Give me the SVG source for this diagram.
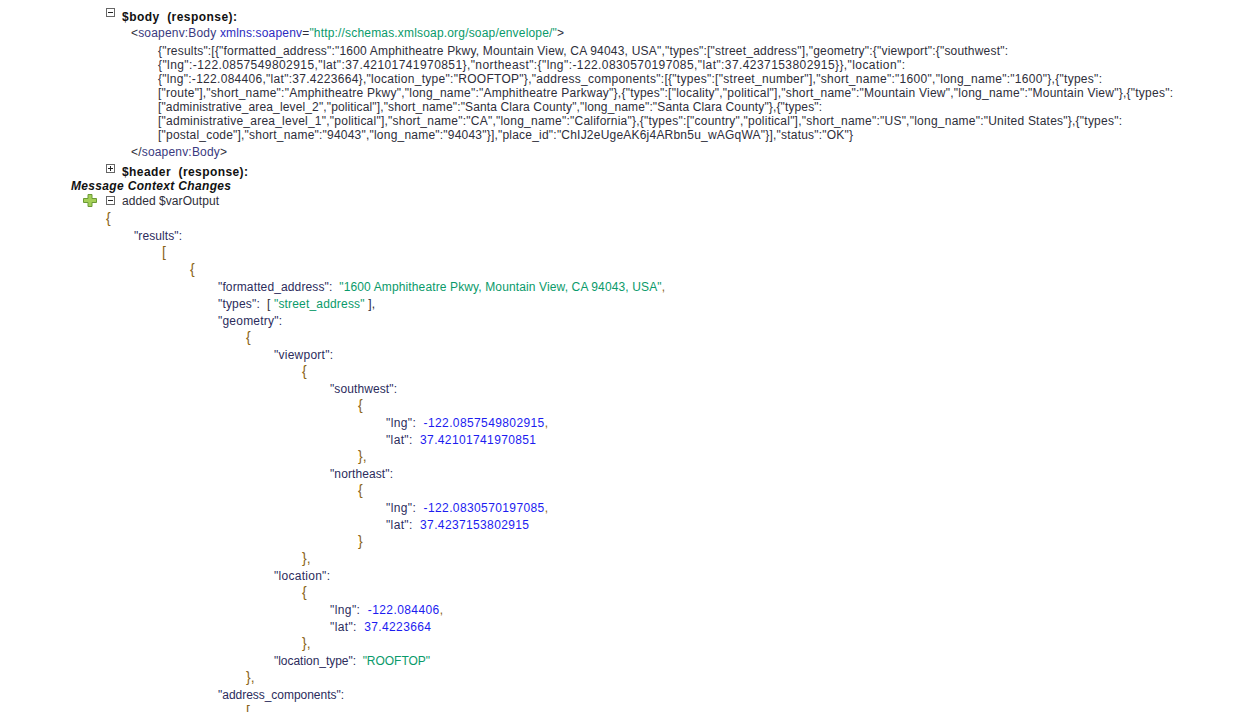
<svg xmlns="http://www.w3.org/2000/svg" width="1234" height="712" viewBox="0 0 1234 712">
<style>
text{font-family:"Liberation Sans",Arial,sans-serif;font-size:12px;fill:#2c2c5c;white-space:pre}
.h{font-weight:bold;fill:#111}
.i{font-weight:bold;font-style:italic;fill:#111}
.t{fill:#2e2e3a}
.tag{fill:#3a3a80}
.at{fill:#2b2bc0}
.s{fill:#0a9a6a}
.n{fill:#1c1cf0}
.b{fill:#8a6418}
.br{fill:#8a6418;font-size:14px}
.box{fill:#fff;stroke:#666;stroke-width:1}
.sym{stroke:#222;stroke-width:1;fill:none}
</style>
<rect width="1234" height="712" fill="#fff"/>
<g id="body-toggle"><rect class="box" x="106.500" y="8.500" width="8" height="8"/><path class="sym" d="M108 12.500h5"/></g>
<g id="header-toggle"><rect class="box" x="106.500" y="164.500" width="8" height="8"/><path class="sym" d="M108 168.500h5M110.500 166v5"/></g>
<g id="added-toggle"><rect class="box" x="106.500" y="196.500" width="8" height="8"/><path class="sym" d="M108 200.500h5"/></g>
<g id="added-icon"><path d="M88 194.500h4v4h4.500v4h-4.500v4h-4v-4h-4.500v-4h4.500z" fill="#a4cf58" stroke="#6b9a35" stroke-width="1"/></g>
<g id="response">
<text class="h" x="122" y="21" textLength="115">$body  (response):</text>
<text x="131" y="37" textLength="433"><tspan class="t">&lt;</tspan><tspan class="tag">soapenv:Body</tspan> <tspan class="at">xmlns:soapenv</tspan><tspan class="t">=</tspan><tspan class="s">"http://schemas.xmlsoap.org/soap/envelope/"</tspan><tspan class="t">&gt;</tspan></text>
<text class="t" x="158" y="55" textLength="850">{"results":[{"formatted_address":"1600 Amphitheatre Pkwy, Mountain View, CA 94043, USA","types":["street_address"],"geometry":{"viewport":{"southwest":</text>
<text class="t" x="158" y="69" textLength="747">{"lng":-122.0857549802915,"lat":37.42101741970851},"northeast":{"lng":-122.0830570197085,"lat":37.4237153802915}},"location":</text>
<text class="t" x="158" y="83" textLength="944">{"lng":-122.084406,"lat":37.4223664},"location_type":"ROOFTOP"},"address_components":[{"types":["street_number"],"short_name":"1600","long_name":"1600"},{"types":</text>
<text class="t" x="158" y="97" textLength="1015">["route"],"short_name":"Amphitheatre Pkwy","long_name":"Amphitheatre Parkway"},{"types":["locality","political"],"short_name":"Mountain View","long_name":"Mountain View"},{"types":</text>
<text class="t" x="158" y="111" textLength="664">["administrative_area_level_2","political"],"short_name":"Santa Clara County","long_name":"Santa Clara County"},{"types":</text>
<text class="t" x="158" y="125" textLength="964">["administrative_area_level_1","political"],"short_name":"CA","long_name":"California"},{"types":["country","political"],"short_name":"US","long_name":"United States"},{"types":</text>
<text class="t" x="158" y="139" textLength="695">["postal_code"],"short_name":"94043","long_name":"94043"}],"place_id":"ChIJ2eUgeAK6j4ARbn5u_wAGqWA"}],"status":"OK"}</text>
<text x="131" y="156" textLength="96"><tspan class="t">&lt;/</tspan><tspan class="tag">soapenv:Body</tspan><tspan class="t">&gt;</tspan></text>
<text class="h" x="122" y="176" textLength="126">$header  (response):</text>
<text class="i" x="71" y="190" textLength="160">Message Context Changes</text>
<text class="t" x="122" y="205" textLength="97">added $varOutput</text>
</g>
<g id="json">
<text class="br" x="106" y="223">{</text>
<text x="134" y="240" textLength="48">"results":</text>
<text class="br" x="162" y="257">[</text>
<text class="br" x="190" y="274">{</text>
<text x="218" y="291" textLength="447"><tspan>"formatted_address":  </tspan><tspan class="s">"1600 Amphitheatre Pkwy, Mountain View, CA 94043, USA"</tspan><tspan class="b">,</tspan></text>
<text x="218" y="308" textLength="157"><tspan>"types":  </tspan><tspan class="t">[ </tspan><tspan class="s">"street_address"</tspan><tspan class="t"> ],</tspan></text>
<text x="218" y="325" textLength="64">"geometry":</text>
<text class="br" x="246" y="342">{</text>
<text x="274" y="359" textLength="59">"viewport":</text>
<text class="br" x="302" y="376">{</text>
<text x="330" y="393" textLength="67">"southwest":</text>
<text class="br" x="358" y="410">{</text>
<text x="386" y="427" textLength="162"><tspan>"lng":  </tspan><tspan class="n">-122.0857549802915</tspan><tspan class="b">,</tspan></text>
<text x="386" y="444" textLength="150"><tspan>"lat":  </tspan><tspan class="n">37.42101741970851</tspan></text>
<text class="br" x="358" y="461">},</text>
<text x="330" y="478" textLength="63">"northeast":</text>
<text class="br" x="358" y="495">{</text>
<text x="386" y="512" textLength="162"><tspan>"lng":  </tspan><tspan class="n">-122.0830570197085</tspan><tspan class="b">,</tspan></text>
<text x="386" y="529" textLength="143"><tspan>"lat":  </tspan><tspan class="n">37.4237153802915</tspan></text>
<text class="br" x="358" y="546">}</text>
<text class="br" x="302" y="563">},</text>
<text x="274" y="580" textLength="56">"location":</text>
<text class="br" x="302" y="597">{</text>
<text x="330" y="614" textLength="113"><tspan>"lng":  </tspan><tspan class="n">-122.084406</tspan><tspan class="b">,</tspan></text>
<text x="330" y="631" textLength="101"><tspan>"lat":  </tspan><tspan class="n">37.4223664</tspan></text>
<text class="br" x="302" y="648">},</text>
<text x="274" y="665" textLength="156"><tspan>"location_type":  </tspan><tspan class="s">"ROOFTOP"</tspan></text>
<text class="br" x="246" y="682">},</text>
<text x="218" y="699" textLength="126">"address_components":</text>
<text class="br" x="246" y="716">[</text>
</g>
</svg>
